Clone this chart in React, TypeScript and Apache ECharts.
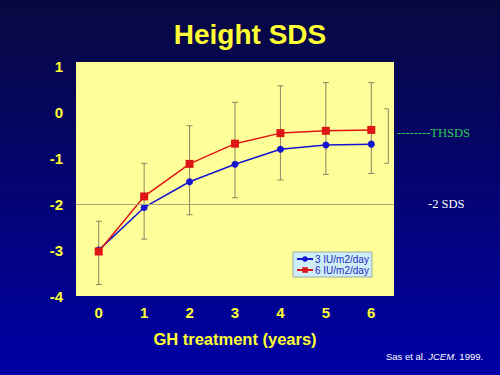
import React, { useEffect, useRef } from "react";
import * as echarts from "echarts";

const years = ["0", "1", "2", "3", "4", "5", "6"];
const iu3 = [-3.0, -2.07, -1.51, -1.13, -0.8, -0.71, -0.69];
const iu6 = [-3.03, -1.83, -1.12, -0.68, -0.45, -0.4, -0.38];
const errLow = [-3.75, -2.76, -2.23, -1.86, -1.47, -1.35, -1.33];
const errHigh = [-2.37, -1.11, -0.29, 0.22, 0.58, 0.65, 0.65];
const thsdsRange = [0.08, -1.11];
const refLine = -2;

export default function App() {
  const ref = useRef<HTMLDivElement>(null);
  useEffect(() => {
    if (!ref.current) return;
    const chart = echarts.init(ref.current, null, { renderer: "svg" });
    const errColor = "#8c8462";
    const errData = years.map((_, i) => [i, errLow[i], errHigh[i]]);
    chart.setOption({
      animation: false,
      backgroundColor: new echarts.graphic.LinearGradient(0, 0, 0, 1, [
        { offset: 0, color: "#08083f" },
        { offset: 1, color: "#0000a6" },
      ]),
      title: {
        text: "Height SDS",
        left: "center",
        top: 20,
        padding: 0,
        textStyle: {
          color: "#ffff33",
          fontSize: 28,
          fontWeight: "bold",
          fontFamily: "Liberation Sans, Arial, sans-serif",
        },
      },
      grid: {
        left: 76,
        top: 62,
        width: 318,
        height: 234,
        show: true,
        backgroundColor: "#ffff99",
        borderWidth: 0,
      },
      legend: {
        left: 293,
        top: 252,
        orient: "vertical",
        itemGap: 1,
        padding: [2, 3, 2, 3],
        itemWidth: 16,
        itemHeight: 7,
        backgroundColor: "#cdeef8",
        borderColor: "#99aaaa",
        borderWidth: 1,
        borderRadius: 0,
        textStyle: {
          fontSize: 10,
          color: "#2828c0",
          fontFamily: "Liberation Sans, Arial, sans-serif",
          padding: [0, 0, 0, -3],
        },
        data: ["3 IU/m2/day", "6 IU/m2/day"],
      },
      xAxis: {
        type: "category",
        data: years,
        boundaryGap: true,
        axisLine: { show: false },
        axisTick: { show: false },
        axisLabel: {
          color: "#ffff33",
          fontSize: 15,
          fontWeight: "bold",
          fontFamily: "Liberation Sans, Arial, sans-serif",
          margin: 9,
        },
        name: "GH treatment (years)",
        nameLocation: "middle",
        nameGap: 34,
        nameTextStyle: {
          color: "#ffff33",
          fontSize: 16.5,
          fontWeight: "bold",
          fontFamily: "Liberation Sans, Arial, sans-serif",
        },
      },
      yAxis: {
        type: "value",
        min: -4,
        max: 1.1,
        interval: 1,
        axisLine: { show: false },
        axisTick: { show: false },
        splitLine: { show: false },
        axisLabel: {
          showMaxLabel: false,
          color: "#ffff33",
          fontSize: 15,
          fontWeight: "bold",
          fontFamily: "Liberation Sans, Arial, sans-serif",
          margin: 13,
        },
      },
      series: [
        {
          type: "custom",
          name: "err",
          z: 1,
          silent: true,
          data: errData,
          renderItem: (params: any, api: any) => {
            const x = api.value(0);
            const lo = api.coord([x, api.value(1)]);
            const hi = api.coord([x, api.value(2)]);
            const w = 3;
            const style = { stroke: errColor, lineWidth: 1 };
            return {
              type: "group",
              children: [
                { type: "line", shape: { x1: lo[0], y1: lo[1], x2: hi[0], y2: hi[1] }, style },
                { type: "line", shape: { x1: lo[0] - w, y1: lo[1], x2: lo[0] + w, y2: lo[1] }, style },
                { type: "line", shape: { x1: hi[0] - w, y1: hi[1], x2: hi[0] + w, y2: hi[1] }, style },
              ],
            };
          },
        },
        {
          type: "custom",
          name: "thsds",
          z: 1,
          silent: true,
          data: [[6, thsdsRange[0], thsdsRange[1]]],
          renderItem: (params: any, api: any) => {
            const x = api.value(0);
            const a = api.coord([x, api.value(1)]);
            const b = api.coord([x, api.value(2)]);
            const px = a[0] + 17;
            const style = { stroke: errColor, lineWidth: 1 };
            return {
              type: "group",
              children: [
                { type: "line", shape: { x1: px, y1: a[1], x2: px, y2: b[1] }, style },
                { type: "line", shape: { x1: px - 4, y1: a[1], x2: px, y2: a[1] }, style },
                { type: "line", shape: { x1: px - 4, y1: b[1], x2: px, y2: b[1] }, style },
              ],
            };
          },
        },
        {
          type: "line",
          name: "3 IU/m2/day",
          data: iu3,
          z: 3,
          symbol: "circle",
          symbolSize: 7,
          lineStyle: { color: "#1515d0", width: 1.5 },
          itemStyle: { color: "#1515d0" },
          markLine: {
            silent: true,
            symbol: ["none", "none"],
            lineStyle: { color: "#aaa27a", width: 1, type: "solid" },
            label: {
              show: true,
              position: "end",
              distance: 34,
              formatter: "-2 SDS",
              color: "#ffffff",
              fontSize: 12.5,
              fontFamily: "Liberation Serif, Times New Roman, serif",
            },
            data: [{ yAxis: refLine }],
          },
        },
        {
          type: "line",
          name: "6 IU/m2/day",
          data: iu6,
          z: 4,
          symbol: "rect",
          symbolSize: 8,
          lineStyle: { color: "#e01515", width: 1.5 },
          itemStyle: { color: "#e01515" },
        },
      ],
      graphic: [
        {
          type: "text",
          left: 397,
          top: 126,
          style: {
            text: "--------THSDS",
            fill: "#2ecc55",
            fontSize: 12.5,
            fontFamily: "Liberation Serif, Times New Roman, serif",
          },
        },
        {
          type: "text",
          left: 386,
          top: 351,
          style: {
            text: "{a|Sas et al. }{b|JCEM}{a|. 1999.}",
            rich: {
              a: { fill: "#ffffff", fontSize: 9.5, fontFamily: "Liberation Sans, Arial, sans-serif" },
              b: { fill: "#ffffff", fontSize: 9.5, fontStyle: "italic", fontFamily: "Liberation Sans, Arial, sans-serif" },
            },
          },
        },
      ],
    });
    return () => chart.dispose();
  }, []);
  return (
    <div
      ref={ref}
      style={{ position: "fixed", left: 0, top: 0, width: 500, height: 375 }}
    />
  );
}
